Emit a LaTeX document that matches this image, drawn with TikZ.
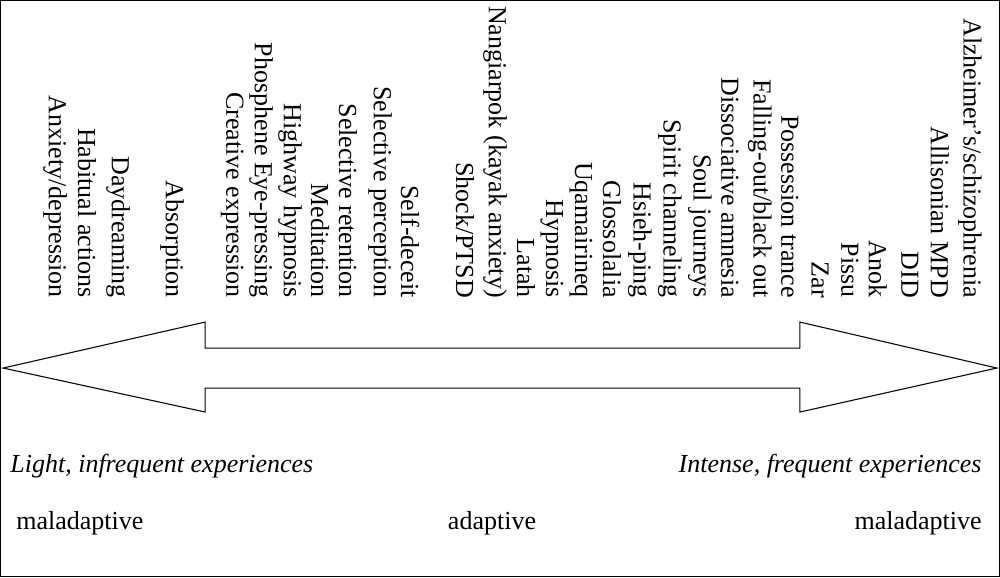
\documentclass[tikz,border=0pt]{standalone}
\usepackage{fontspec}
\setmainfont{Liberation Serif}
\begin{document}
\begin{tikzpicture}[x=0.75pt,y=-0.75pt,
  lab/.style={rotate=-90,anchor=east,inner sep=0pt,font=\fontsize{19.5}{22}\selectfont},
  bot/.style={inner sep=0pt,font=\fontsize{19.5}{22}\selectfont}]
\draw[line width=1pt] (0.5,0.5) rectangle (999.5,576.5);
\useasboundingbox (0,0) rectangle (1000,577);
\draw[line width=0.8pt] (3,368) -- (205,322) -- (205,348) -- (800,348) -- (800,322) -- (997,368)
  -- (800,412) -- (800,388) -- (205,388) -- (205,412) -- cycle;
\foreach \x/\t [count=\i] in {55/Anxiety\slash depression,87/Habitual actions,118/Daydreaming,172/Absorption,
 232/Creative expression,261/Phosphene Eye-pressing,290/Highway hypnosis,320/Meditation,
 348/Selective retention,380/Selective perception,410/Self-deceit,465/Shock\slash PTSD,
 495/Nangiarpok (kayak anxiety),526/Latah,552/Hypnosis,581/Uqamairineq,612/Glossolalia,
 640/Hsieh-ping,670/Spirit channeling,700/Soul journeys,730/Dissociative amnesia,
 760/Falling-out\slash black out,790/Possession trance,820/Zar,850/Pissu,878/Anok,910/DID,
 940/Allisonian MPD,970/Alzheimer’s\slash schizophrenia}
 \node[lab] (l\i) at (\x,298) {\t};
\node[bot,anchor=west,font=\fontsize{19.5}{22}\selectfont\itshape] (li) at (10,466) {Light, infrequent experiences};
\node[bot,anchor=east,font=\fontsize{19.5}{22}\selectfont\itshape] (ie) at (982,466) {Intense, frequent experiences};
\node[bot,anchor=west] (m1) at (16,523) {maladaptive};
\node[bot] (ad) at (492,523) {adaptive};
\node[bot,anchor=east] (m2) at (982,523) {maladaptive};
\end{tikzpicture}
\end{document}
